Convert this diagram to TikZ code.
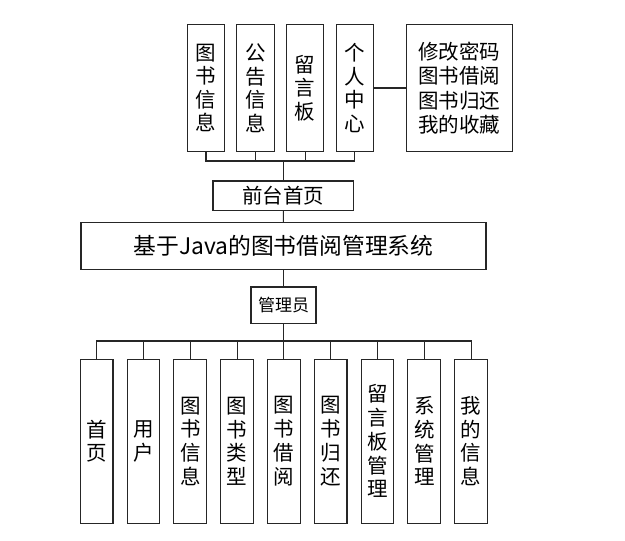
\documentclass[tikz,border=0pt]{standalone}
\usepackage{fontspec}
\setmainfont{Noto Sans CJK SC}
\usepackage{tikz}
\usetikzlibrary{positioning}
\definecolor{ink}{HTML}{262626}
\newcommand{\fs}[2]{\fontsize{#1}{#2}\selectfont}
\tikzset{
  box/.style={rectangle, draw=ink, fill=white, line width=1.1pt, inner sep=0pt, outer sep=0pt,
              align=center, text=black},
  vbox/.style={box, minimum width=37.4pt, minimum height=127.4pt, font=\fs{20.5}{23.5}},
  lbox/.style={box, minimum width=32.7pt, minimum height=164.3pt, font=\fs{20.5}{23.8}},
  link/.style={draw=ink, line width=1.1pt}
}
\begin{document}
\begin{tikzpicture}[x=1pt, y=1pt]
 \useasboundingbox (0,0) rectangle (625,-541);
 % system and the two entrances
 \node[box, minimum width=405pt, minimum height=47pt, font=\fs{22.8}{26}] (sys) at (283.5,-245.8) {基于Java的图书借阅管理系统};
 \node[box, minimum width=140.7pt, minimum height=29.7pt, font=\fs{20.5}{24}, above=11.6pt of sys, xshift=-0.2pt] (front) {前台首页};
 \node[box, minimum width=65pt, minimum height=36.3pt, font=\fs{17}{20}, below=17.7pt of sys] (admin) {管理员};

 % front pages
 \node[vbox] (tbook) at (206,-88) {图\\书\\信\\息};
 \node[vbox, right=12.2pt of tbook] (tnotice) {公\\告\\信\\息};
 \node[vbox, right=12.2pt of tnotice] (tmsg) {留\\言\\板};
 \node[vbox, right=12.2pt of tmsg] (tuser) {个\\人\\中\\心};
 \node[box, minimum width=106.4pt, minimum height=127.4pt, font=\fs{20.5}{24.4}, right=32.6pt of tuser] (tsub) {修改密码\\图书借阅\\图书归还\\我的收藏};

 \coordinate (tbus) at (283.7,-161);
 \draw[link] (tbook.south) -- (tbook.south |- tbus) -- (tuser.south |- tbus) -- (tuser.south);
 \draw[link] (tnotice.south) -- (tnotice.south |- tbus); \draw[link] (tmsg.south) -- (tmsg.south |- tbus);
 \draw[link] (front.north) -- (front.north |- tbus);
 \draw[link] (tuser.east) -- (tsub.west);
 \draw[link] (front) -- (sys); \draw[link] (sys) -- (admin);

 % admin pages
 \node[lbox] (bhome) at (96.65,-441.2) {首\\页};
 \node[lbox, right=14.1pt of bhome] (buser) {用\\户};
 \node[lbox, right=14.1pt of buser] (bbook) {图\\书\\信\\息};
 \node[lbox, right=14.1pt of bbook] (btype) {图\\书\\类\\型};
 \node[lbox, right=14.1pt of btype] (bborrow) {图\\书\\借\\阅};
 \node[lbox, right=14.1pt of bborrow] (breturn) {图\\书\\归\\还};
 \node[lbox, right=14.1pt of breturn] (bmsg) {留\\言\\板\\管\\理};
 \node[lbox, right=14.1pt of bmsg] (bsys) {系\\统\\管\\理};
 \node[lbox, right=14.1pt of bsys] (bmine) {我\\的\\信\\息};

 \coordinate (bbus) at (283.5,-341);
 \draw[link] (admin.south) -- (admin.south |- bbus);
 \draw[link] (bhome.north) -- (bhome.north |- bbus) -- (bmine.north |- bbus) -- (bmine.north);
 \draw[link] (buser.north |- bbus) -- (buser.north); \draw[link] (bbook.north |- bbus) -- (bbook.north);
 \draw[link] (btype.north |- bbus) -- (btype.north); \draw[link] (bborrow.north |- bbus) -- (bborrow.north);
 \draw[link] (breturn.north |- bbus) -- (breturn.north); \draw[link] (bmsg.north |- bbus) -- (bmsg.north);
 \draw[link] (bsys.north |- bbus) -- (bsys.north);
\end{tikzpicture}
\end{document}
